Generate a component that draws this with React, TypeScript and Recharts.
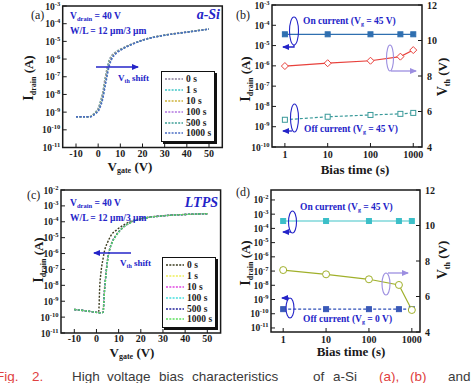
import React from 'react';
import { LineChart, Line, XAxis, YAxis, ReferenceArea, Legend } from 'recharts';

const W = 474;
const H = 383;
const SERIF = '"Liberation Serif", "Times New Roman", serif';
const SANS = '"Liberation Sans", Arial, sans-serif';
const INK = '#1a1a1a';
const BLUE = '#2424c8';
const PURPLE = '#9c8ee0';

// (a) a-Si transfer curves, Id vs Vg
const vgA = [-10, -4, -3, -2, -1, 0, 1, 2, 3, 4, 5, 6, 8, 10, 15, 20, 30, 40, 50];
const aSi0s = [5.5e-10, 5.5e-10, 6e-10, 8e-10, 1.1e-9, 1.6e-9, 4e-9, 1.2e-8, 7e-8, 3e-7, 9e-7, 1.5e-6, 2.6e-6, 3.6e-6, 7e-6, 1.2e-5, 2.3e-5, 3.4e-5, 5e-5];
const aSi1s = [5.5e-10, 5.5e-10, 6e-10, 7.8e-10, 1.05e-9, 1.5e-9, 3.6e-9, 1.05e-8, 6e-8, 2.6e-7, 8e-7, 1.4e-6, 2.5e-6, 3.5e-6, 6.9e-6, 1.19e-5, 2.28e-5, 3.38e-5, 4.98e-5];
const aSi10s = [5.5e-10, 5.5e-10, 5.9e-10, 7.5e-10, 1e-9, 1.4e-9, 3.2e-9, 9e-9, 5e-8, 2.2e-7, 7e-7, 1.3e-6, 2.4e-6, 3.4e-6, 6.8e-6, 1.18e-5, 2.26e-5, 3.36e-5, 4.96e-5];
const aSi100s = [5.5e-10, 5.5e-10, 5.8e-10, 7.2e-10, 9.5e-10, 1.3e-9, 2.8e-9, 7.5e-9, 4e-8, 1.8e-7, 6e-7, 1.2e-6, 2.3e-6, 3.3e-6, 6.7e-6, 1.17e-5, 2.24e-5, 3.34e-5, 4.94e-5];
const aSi500s = [5.5e-10, 5.5e-10, 5.7e-10, 7e-10, 9e-10, 1.2e-9, 2.4e-9, 6e-9, 3e-8, 1.4e-7, 5e-7, 1.05e-6, 2.15e-6, 3.2e-6, 6.6e-6, 1.16e-5, 2.22e-5, 3.32e-5, 4.92e-5];
const aSi1000s = [5.5e-10, 5.5e-10, 5.6e-10, 6.8e-10, 8.5e-10, 1.1e-9, 2e-9, 5e-9, 2.2e-8, 1e-7, 4e-7, 9e-7, 2e-6, 3.1e-6, 6.5e-6, 1.15e-5, 2.2e-5, 3.3e-5, 4.9e-5];
const stressNames = ['0 s', '1 s', '10 s', '100 s', '500 s', '1000 s'];
const colorsA = ['#8a7f9e', '#3fc6c6', '#cdb33a', '#b277e0', '#3f9f96', '#4a6cc4'];

// (c) LTPS transfer curves
const vgC = [-10, -5, 0, 1, 1.5, 2, 3, 3.5, 4, 5, 6, 7, 9, 12, 15, 20, 30, 40, 50];
const ltps0s = [3e-10, 2.5e-10, 2e-10, 2.2e-10, 1e-8, 6e-8, 5e-7, 1.2e-6, 2.3e-6, 5e-6, 1e-5, 1.7e-5, 3e-5, 6e-5, 1e-4, 1.6e-4, 2.4e-4, 2.9e-4, 3.2e-4];
const ltps1s = [3e-10, 2.5e-10, 2e-10, 1.9e-10, 1.9e-10, 1.9e-10, 2.2e-10, 4e-9, 2.6e-8, 4.5e-7, 2.2e-6, 5.4e-6, 1.6e-5, 4.6e-5, 8.6e-5, 1.5e-4, 2.35e-4, 2.88e-4, 3.2e-4];
const ltps10s = [3e-10, 2.5e-10, 2e-10, 1.9e-10, 1.9e-10, 1.9e-10, 2.1e-10, 3.5e-9, 2.3e-8, 4.2e-7, 2.1e-6, 5.2e-6, 1.55e-5, 4.5e-5, 8.5e-5, 1.5e-4, 2.35e-4, 2.88e-4, 3.2e-4];
const ltps100s = [3e-10, 2.5e-10, 2e-10, 1.9e-10, 1.9e-10, 1.9e-10, 2e-10, 3e-9, 2e-8, 4e-7, 2e-6, 5e-6, 1.5e-5, 4.5e-5, 8.5e-5, 1.5e-4, 2.35e-4, 2.88e-4, 3.2e-4];
const ltps500s = [3e-10, 2.5e-10, 2e-10, 1.9e-10, 1.9e-10, 1.9e-10, 2e-10, 2.6e-9, 1.8e-8, 3.7e-7, 1.9e-6, 4.8e-6, 1.45e-5, 4.4e-5, 8.4e-5, 1.5e-4, 2.35e-4, 2.88e-4, 3.2e-4];
const ltps1000s = [3e-10, 2.5e-10, 2e-10, 1.9e-10, 1.9e-10, 1.9e-10, 2e-10, 2.2e-9, 1.6e-8, 3.4e-7, 1.8e-6, 4.6e-6, 1.4e-5, 4.3e-5, 8.3e-5, 1.5e-4, 2.35e-4, 2.88e-4, 3.2e-4];
const colorsC = ['#3b3b1e', '#eeee58', '#e046e0', '#46dede', '#23239a', '#5ce05c'];

// (b), (d) bias time dependence
const biasTime = [1, 10, 100, 500, 1000];
const aSiOn = [3.6e-5, 3.6e-5, 3.6e-5, 3.6e-5, 3.6e-5];
const aSiOff = [2.2e-9, 3.1e-9, 3.8e-9, 4.3e-9, 4.8e-9];
const aSiVth = [8.56, 8.72, 8.86, 9.09, 9.46];
const ltpsOn = [3.3e-4, 3.3e-4, 3.3e-4, 3.3e-4, 3.3e-4];
const ltpsOff = [2.1e-10, 2.1e-10, 2.1e-10, 2.1e-10, 2.1e-10];
const ltpsVth = [7.49, 7.25, 6.97, 6.65, 5.24];

const vgTicks = [-10, 0, 10, 20, 30, 40, 50];
const timeTicks = [1, 10, 100, 1000];
const vthTicks = [4, 6, 8, 10, 12];
const idTicksA = [1e-11, 1e-10, 1e-9, 1e-8, 1e-7, 1e-6, 1e-5, 1e-4, 1e-3];
const idTicksB = [1e-10, 1e-9, 1e-8, 1e-7, 1e-6, 1e-5, 1e-4, 1e-3];
const idTicksC = [1e-11, 1e-10, 1e-9, 1e-8, 1e-7, 1e-6, 1e-5, 1e-4, 1e-3, 1e-2];

// plot frames (pixel boxes of each panel)
const FA = { l: 62.7, r: 222.3, t: 6, b: 147.5 };
const FB = { l: 272, r: 422, t: 5, b: 147 };
const FC = { l: 61, r: 220.6, t: 190, b: 333 };
const FD = { l: 271, r: 420, t: 190, b: 332 };

const rowsOf = (xs: number[], series: number[][]) =>
  xs.map((vg, i) => {
    const r: any = { vg };
    series.forEach((s, k) => (r['s' + k] = s[i]));
    return r;
  });

const rowsA = rowsOf(vgA, [aSi0s, aSi1s, aSi10s, aSi100s, aSi500s, aSi1000s]);
const rowsC = rowsOf(vgC, [ltps0s, ltps1s, ltps10s, ltps100s, ltps500s, ltps1000s]);
const rowsB = biasTime.map((t, i) => ({ t, on: aSiOn[i], off: aSiOff[i], vth: aSiVth[i] }));
const rowsD = biasTime.map((t, i) => ({ t, on: ltpsOn[i], off: ltpsOff[i], vth: ltpsVth[i] }));

const PowTick = (p: any) => {
  const e = Math.round(Math.log10(p.payload.value));
  return (
    <text x={p.x} y={p.y} dy={3.5} textAnchor="end" fontFamily={SERIF} fontWeight="bold" fontSize={9.5} fill={INK}>
      10<tspan dy={-4} fontSize={6.5}>{e}</tspan>
    </text>
  );
};

const XTick = (p: any) => (
  <text x={p.x} y={p.y} dy="0.71em" textAnchor="middle" fontFamily={SERIF} fontWeight="bold" fontSize={10} fill={INK}>
    {p.payload.value}
  </text>
);

const RTick = (p: any) => (
  <text x={p.x} y={p.y} dy={3.5} textAnchor="start" fontFamily={SERIF} fontWeight="bold" fontSize={10} fill={INK}>
    {p.payload.value}
  </text>
);

const LegendBox = ({ payload }: any) => {
  const items = [...(payload || [])].sort((a: any, b: any) => stressNames.indexOf(a.value) - stressNames.indexOf(b.value));
  return (
    <div style={{ border: '1px solid #111', background: '#fff', boxShadow: '2px 2px 0 #111', padding: '2px 0 2px 2px', width: 50 }}>
      {items.map((e: any) => (
        <div key={e.value} style={{ display: 'flex', alignItems: 'center', height: 10.8 }}>
          <svg width={20} height={6}>
            <line x1={1} x2={19} y1={3} y2={3} stroke={e.color} strokeWidth={1.5} strokeDasharray="2 1.3" />
          </svg>
          <span style={{ font: `bold 9.5px ${SERIF}`, color: INK, marginLeft: 2, lineHeight: '10px' }}>{e.value}</span>
        </div>
      ))}
    </div>
  );
};

const squareDot = (fill: string, stroke: string) => (p: any) =>
  <rect key={p.index} x={p.cx - 2.5} y={p.cy - 2.5} width={5} height={5} fill={fill} stroke={stroke} strokeWidth={1} />;
const diamondDot = (c: string) => (p: any) =>
  <polygon key={p.index} points={`${p.cx},${p.cy - 3.5} ${p.cx + 3.5},${p.cy} ${p.cx},${p.cy + 3.5} ${p.cx - 3.5},${p.cy}`} fill="#fff" stroke={c} strokeWidth={1} />;
const circleDot = (c: string) => (p: any) =>
  <circle key={p.index} cx={p.cx} cy={p.cy} r={3.5} fill="#fff" stroke={c} strokeWidth={1} />;

function TransferPanel({ frame, rows, colors, yDomain, yTicks, legendAt }: any) {
  return (
    <div style={{ position: 'absolute', left: 0, top: 0 }}>
      <LineChart width={W} height={H} data={rows} margin={{ top: frame.t, right: W - frame.r, bottom: 0, left: 0 }}>
        <XAxis dataKey="vg" type="number" domain={[-16, 56]} ticks={vgTicks} interval={0} allowDataOverflow
          height={H - frame.b} tickSize={-4} tickMargin={6} axisLine={false} tickLine={{ stroke: INK }}
          tick={(p: any) => <XTick {...p} />} />
        <YAxis type="number" scale="log" domain={yDomain} ticks={yTicks} interval={0} allowDataOverflow
          width={frame.l} tickSize={-4} tickMargin={6.5} axisLine={false} tickLine={{ stroke: INK }}
          tick={(p: any) => <PowTick {...p} />} />
        <ReferenceArea x1={-16} x2={56} y1={yDomain[0]} y2={yDomain[1]} fill="none" stroke={INK} strokeWidth={1.5} ifOverflow="visible" />
        {stressNames.map((n, k) => (
          <Line key={n} dataKey={'s' + k} name={n} type="monotone" stroke={colors[k]} strokeWidth={1.4}
            strokeDasharray="2 1.5" dot={false} isAnimationActive={false} />
        ))}
        <Legend layout="vertical" align="center" verticalAlign="middle"
          wrapperStyle={{ left: legendAt[0], top: legendAt[1], width: 53, height: 70 }}
          content={(p: any) => <LegendBox payload={p.payload} />} />
      </LineChart>
    </div>
  );
}

function BiasPanel({ frame, rows, xDomain, yDomain, yTicks, on, off, vth }: any) {
  return (
    <div style={{ position: 'absolute', left: 0, top: 0 }}>
      <LineChart width={W} height={H} data={rows} margin={{ top: frame.t, right: 0, bottom: 0, left: 0 }}>
        <XAxis dataKey="t" type="number" scale="log" domain={xDomain} ticks={timeTicks} interval={0} allowDataOverflow
          height={H - frame.b} tickSize={-4} tickMargin={8} axisLine={false} tickLine={{ stroke: INK }}
          tick={(p: any) => <XTick {...p} />} />
        <YAxis yAxisId="l" type="number" scale="log" domain={yDomain} ticks={yTicks} interval={0} allowDataOverflow
          width={frame.l} tickSize={-4} tickMargin={6.5} axisLine={false} tickLine={{ stroke: INK }}
          tick={(p: any) => <PowTick {...p} />} />
        <YAxis yAxisId="r" orientation="right" type="number" domain={[4, 12]} ticks={vthTicks} interval={0} allowDataOverflow
          width={W - frame.r} tickSize={-4} tickMargin={9} axisLine={false} tickLine={{ stroke: INK }}
          tick={(p: any) => <RTick {...p} />} />
        <ReferenceArea yAxisId="l" x1={xDomain[0]} x2={xDomain[1]} y1={yDomain[0]} y2={yDomain[1]} fill="none" stroke={INK} strokeWidth={1.5} ifOverflow="visible" />
        <Line yAxisId="l" dataKey="on" type="linear" stroke={on.color} strokeWidth={1.2} dot={on.dot} isAnimationActive={false} />
        <Line yAxisId="l" dataKey="off" type="linear" stroke={off.color} strokeWidth={1.2} strokeDasharray="3 2" dot={off.dot} isAnimationActive={false} />
        <Line yAxisId="r" dataKey="vth" type="linear" stroke={vth.color} strokeWidth={1.2} dot={vth.dot} isAnimationActive={false} />
      </LineChart>
    </div>
  );
}

const B = { fontFamily: SERIF, fontWeight: 'bold' as const };

const YTitle = ({ x, y, main, sub, rest }: any) => (
  <text {...B} x={x} y={y} textAnchor="middle" transform={`rotate(-90 ${x} ${y})`} fill={INK} fontSize={13}>
    <tspan fontSize={14}>{main}</tspan>
    <tspan fontSize={8} dy={3}>{sub}</tspan>
    <tspan dy={-3}>{rest}</tspan>
  </text>
);

const SubText = ({ x, y, main, sub, rest, size, subSize, color, anchor }: any) => (
  <text {...B} x={x} y={y} fontSize={size} fill={color} textAnchor={anchor || 'start'}>
    {main}
    <tspan fontSize={subSize} dy={2}>{sub}</tspan>
    <tspan dy={-2}>{rest}</tspan>
  </text>
);

function Overlay() {
  const caption: [string, number, boolean][] = [
    ['Fig.', -4, true], ['2.', 32, true], ['High', 72, false], ['voltage', 107, false], ['bias', 159, false],
    ['characteristics', 192, false], ['of', 313, false], ['a-Si', 333, false], ['(a),', 379, true],
    ['(b)', 410, true], ['and', 448, false],
  ];
  return (
    <svg width={W} height={H} style={{ position: 'absolute', left: 0, top: 0, pointerEvents: 'none' }}>
      <defs>
        <marker id="hb" markerWidth={7} markerHeight={6} refX={6} refY={3} orient="auto" markerUnits="userSpaceOnUse">
          <path d="M0,0 L7,3 L0,6 Z" fill={BLUE} />
        </marker>
        <marker id="hp" markerWidth={7} markerHeight={6} refX={6} refY={3} orient="auto" markerUnits="userSpaceOnUse">
          <path d="M0,0 L7,3 L0,6 Z" fill={PURPLE} />
        </marker>
      </defs>

      {/* panel letters */}
      <g fontFamily={SERIF} fontSize={12} fill={INK}>
        <text x={31} y={19}>(a)</text>
        <text x={236} y={19}>(b)</text>
        <text x={27} y={199}>(c)</text>
        <text x={236} y={196}>(d)</text>
      </g>

      {/* axis titles */}
      <YTitle x={33} y={78} main="I" sub="drain" rest=" (A)" />
      <YTitle x={43} y={260} main="I" sub="drain" rest=" (A)" />
      <YTitle x={250} y={79} main="I" sub="drain" rest=" (A)" />
      <YTitle x={250} y={263} main="I" sub="drain" rest=" (A)" />
      <YTitle x={447} y={77} main="V" sub="th" rest=" (V)" />
      <YTitle x={447} y={260} main="V" sub="th" rest=" (V)" />
      <SubText x={130} y={171} main="V" sub="gate" rest=" (V)" size={13} subSize={8} color={INK} anchor="middle" />
      <SubText x={132} y={357} main="V" sub="gate" rest=" (V)" size={13} subSize={8} color={INK} anchor="middle" />
      <text {...B} x={355} y={174} fontSize={13} textAnchor="middle" fill={INK}>Bias time (s)</text>
      <text {...B} x={351} y={356} fontSize={13} textAnchor="middle" fill={INK}>Bias time (s)</text>

      {/* (a) */}
      <SubText x={70} y={19} main="V" sub="drain" rest=" = 40 V" size={9.5} subSize={6.5} color={BLUE} />
      <text {...B} x={70} y={34} fontSize={9.5} fill={BLUE}>W/L = 12 μm/3 μm</text>
      <text {...B} x={220} y={19} fontSize={14} fontStyle="italic" textAnchor="end" fill={BLUE}>a-Si</text>
      <line x1={96} y1={67} x2={138} y2={67} stroke={BLUE} strokeWidth={1.5} markerEnd="url(#hb)" />
      <SubText x={118} y={81} main="V" sub="th" rest=" shift" size={9} subSize={6} color={BLUE} />

      {/* (c) */}
      <SubText x={70} y={206} main="V" sub="drain" rest=" = 40 V" size={9.5} subSize={6.5} color={BLUE} />
      <text {...B} x={70} y={221} fontSize={9.5} fill={BLUE}>W/L = 12 μm/3 μm</text>
      <text {...B} x={218} y={207} fontSize={14} fontStyle="italic" textAnchor="end" fill={BLUE}>LTPS</text>
      <line x1={131} y1={253} x2={94} y2={253} stroke={BLUE} strokeWidth={1.5} markerEnd="url(#hb)" />
      <SubText x={120} y={266} main="V" sub="th" rest=" shift" size={9} subSize={6} color={BLUE} />

      {/* (b) */}
      <SubText x={303} y={24} main="On current (V" sub="g" rest=" = 45 V)" size={9.5} subSize={6} color={BLUE} />
      <ellipse cx={294} cy={31} rx={4.5} ry={14} fill="none" stroke={BLUE} strokeWidth={1.1} />
      <path d="M294,45 L294,47 L283,47" fill="none" stroke={BLUE} strokeWidth={1.3} markerEnd="url(#hb)" />
      <SubText x={304} y={132} main="Off current (V" sub="g" rest=" = 45 V)" size={9.5} subSize={6} color={BLUE} />
      <ellipse cx={294.5} cy={118} rx={4} ry={14} fill="none" stroke={BLUE} strokeWidth={1.1} />
      <path d="M292,131 L283,131" fill="none" stroke={BLUE} strokeWidth={1.3} markerEnd="url(#hb)" />
      <ellipse cx={390} cy={58} rx={3.5} ry={13} fill="none" stroke={PURPLE} strokeWidth={1.1} />
      <path d="M391,71 L416,71" fill="none" stroke={PURPLE} strokeWidth={1.3} markerEnd="url(#hp)" />

      {/* (d) */}
      <SubText x={300} y={210} main="On current (V" sub="g" rest=" = 45 V)" size={9.5} subSize={6} color={BLUE} />
      <ellipse cx={292.5} cy={222} rx={4} ry={11} fill="none" stroke={BLUE} strokeWidth={1.1} />
      <path d="M291,232 L283,232" fill="none" stroke={BLUE} strokeWidth={1.3} markerEnd="url(#hb)" />
      <SubText x={303} y={322} main="Off current (V" sub="g" rest=" = 0 V)" size={9.5} subSize={6} color={BLUE} />
      <ellipse cx={290} cy={308} rx={4} ry={10} fill="none" stroke={BLUE} strokeWidth={1.1} />
      <path d="M289,298 L282,298" fill="none" stroke={BLUE} strokeWidth={1.3} markerEnd="url(#hb)" />
      <ellipse cx={386} cy={284} rx={4} ry={11} fill="none" stroke={PURPLE} strokeWidth={1.1} />
      <path d="M388,273 L408,273" fill="none" stroke={PURPLE} strokeWidth={1.3} markerEnd="url(#hp)" />

      {/* caption */}
      <g fontFamily={SANS} fontSize={13.5}>
        {caption.map(([w, x, red]) => (
          <text key={w + x} x={x} y={381} fill={red ? '#e04040' : '#3a3a3a'}>{w}</text>
        ))}
      </g>
    </svg>
  );
}

export default function App() {
  return (
    <div style={{ position: 'absolute', left: 0, top: 0, width: W, height: H, background: '#fff', overflow: 'hidden' }}>
      <TransferPanel frame={FA} rows={rowsA} colors={colorsA} yDomain={[1e-11, 1e-3]} yTicks={idTicksA} legendAt={[161, 71]} />
      <TransferPanel frame={FC} rows={rowsC} colors={colorsC} yDomain={[1e-11, 1e-2]} yTicks={idTicksC} legendAt={[162, 257]} />
      <BiasPanel frame={FB} rows={rowsB} xDomain={[0.5, 1600]} yDomain={[1e-10, 1e-3]} yTicks={idTicksB}
        on={{ color: '#2f6fb0', dot: squareDot('#2f6fb0', '#2f6fb0') }}
        off={{ color: '#3a9a9a', dot: squareDot('#fff', '#3a9a9a') }}
        vth={{ color: '#e8413c', dot: diamondDot('#e8413c') }} />
      <BiasPanel frame={FD} rows={rowsD} xDomain={[0.52, 1550]} yDomain={[5.2e-12, 5e-2]} yTicks={idTicksC}
        on={{ color: '#40c4c8', dot: squareDot('#3cbfc8', '#3cbfc8') }}
        off={{ color: '#3050b8', dot: squareDot('#3a5ab8', '#3a5ab8') }}
        vth={{ color: '#a0b02a', dot: circleDot('#a0b02a') }} />
      <Overlay />
    </div>
  );
}
